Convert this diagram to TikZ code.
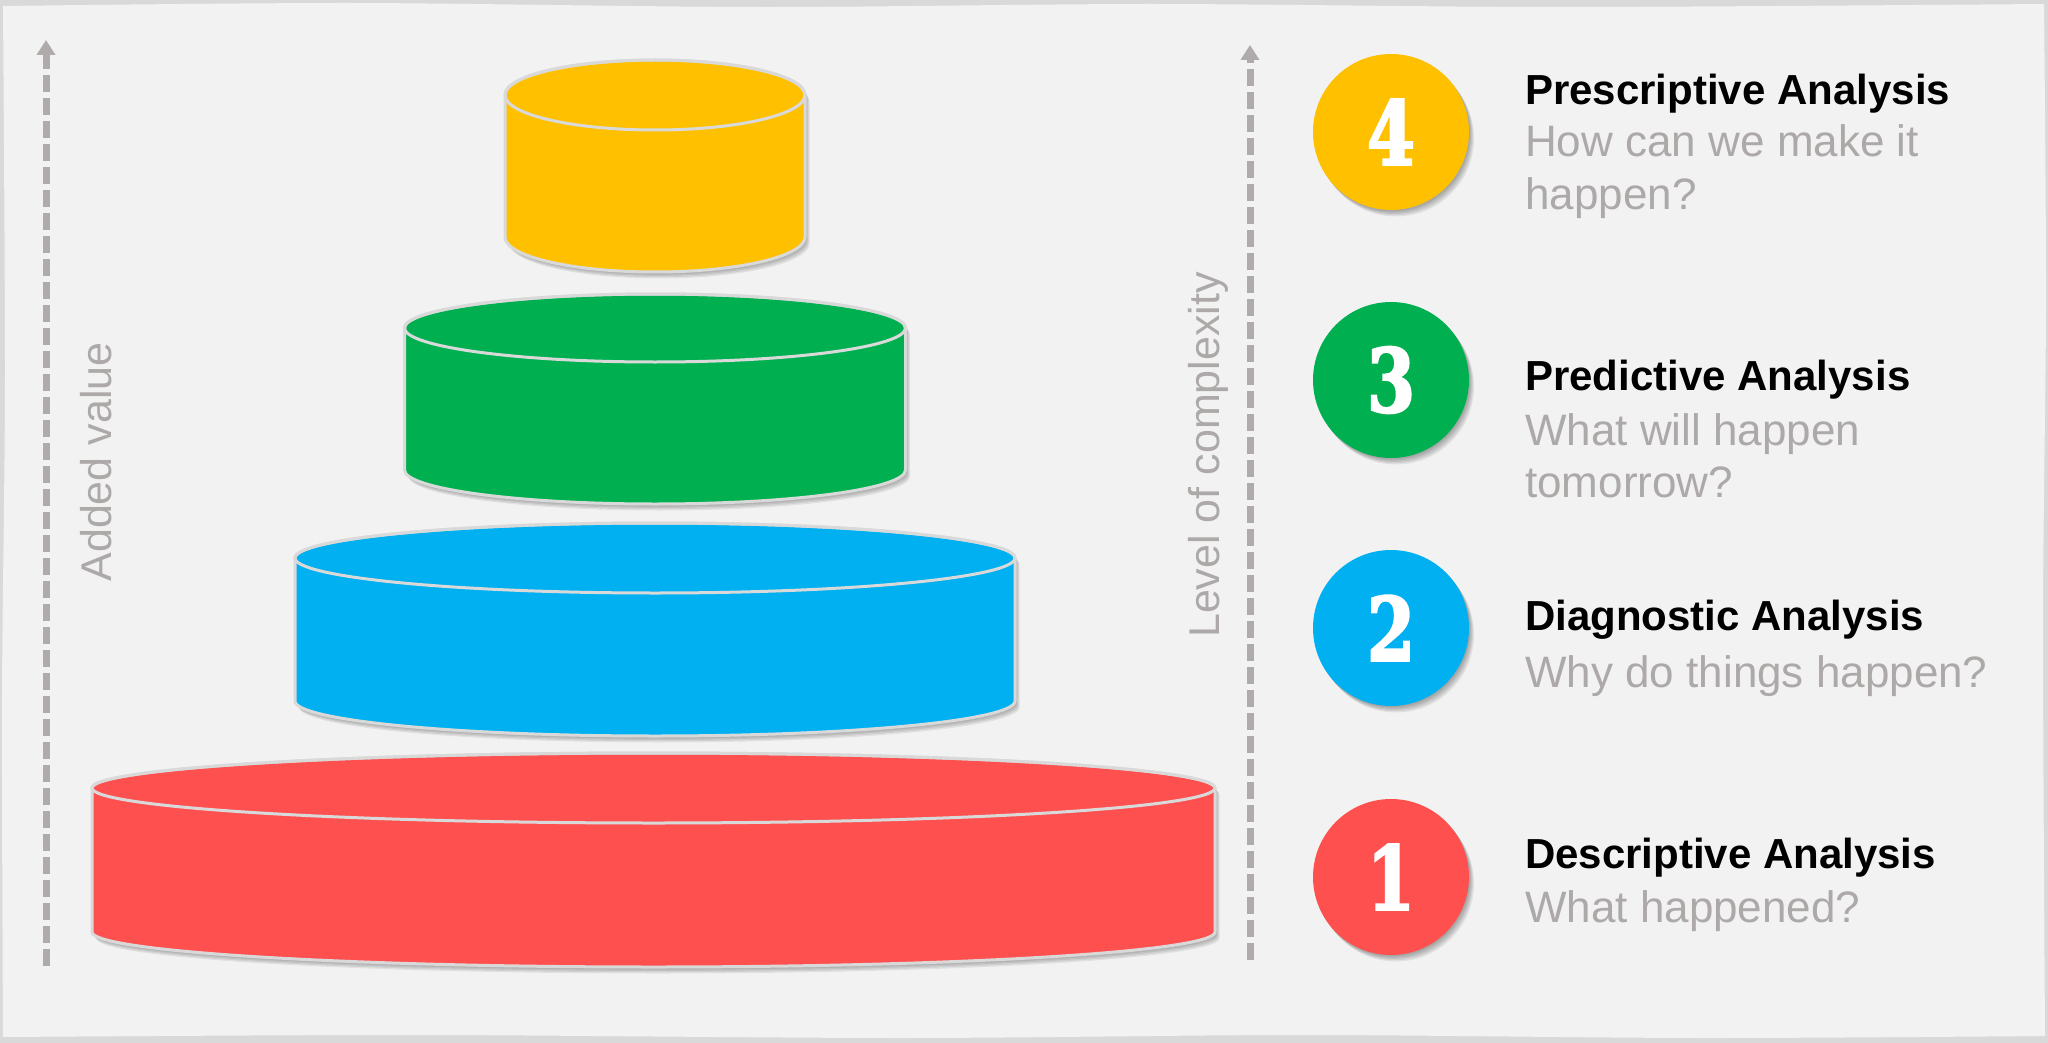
\documentclass[tikz,border=0pt]{standalone}
\usepackage{fontspec}
\setmainfont{Liberation Sans}
\newfontfamily\numfont{DejaVu Serif}[UprightFont={* Bold}, FakeStretch=0.78, FakeBold=2.5]
\usetikzlibrary{arrows.meta}
\definecolor{outerc}{HTML}{D9D9D9}
\definecolor{bgc}{HTML}{F2F2F2}
\definecolor{edgec}{HTML}{D9D9D9}
\definecolor{yel}{HTML}{FFC000}
\definecolor{grn}{HTML}{00B050}
\definecolor{blu}{HTML}{00B0F0}
\definecolor{redc}{HTML}{FF5050}
\definecolor{txtgray}{HTML}{ADA9A9}
\definecolor{arrgray}{HTML}{AFABAB}
\tikzset{
  cylside/.style={draw=edgec, line width=3pt, line join=round},
  shadowfill/.style={fill=black, opacity=0.07},
  numcirc/.style={circle, minimum size=156pt, inner sep=0pt, text=white,
     font=\numfont\fontsize{88}{88}\selectfont},
  titletxt/.style={anchor=base west, inner sep=0pt, text=black,
     font=\bfseries\fontsize{42}{50}\selectfont},
  subtxt/.style={anchor=base west, inner sep=0pt, text=txtgray,
     font=\fontsize{44}{53}\selectfont},
  axislabel/.style={rotate=90, inner sep=0pt, text=txtgray,
     font=\fontsize{43}{50}\selectfont},
  axisarrow/.style={draw=arrgray, line width=7pt, dash pattern=on 17pt off 6pt,
     -{Triangle[width=18pt,length=15pt]}}
}
% cx, rx, top, bottom, ry, colour
\newcommand\drawcyl[6]{%
  \foreach \k in {1,...,5}{%
    \fill[shadowfill, shift={(\k*0.9,\k*1.3)}]
      (#1-#2,#3) -- (#1-#2,#4) arc[start angle=180,end angle=0,x radius=#2,y radius=#5]
      -- (#1+#2,#3) arc[start angle=0,end angle=-180,x radius=#2,y radius=#5] -- cycle;
  }
  \filldraw[cylside, fill=#6]
    (#1-#2,#3) -- (#1-#2,#4) arc[start angle=180,end angle=0,x radius=#2,y radius=#5]
    -- (#1+#2,#3) arc[start angle=0,end angle=-180,x radius=#2,y radius=#5] -- cycle;
  \draw[cylside] (#1,#3) ellipse[x radius=#2, y radius=#5];
}
\newcommand\circshadow[2]{%
  \foreach \k in {1,...,5}{%
    \fill[shadowfill] (#1+\k*1.0,#2+\k*1.3) circle[radius=78];
  }
}
\begin{document}
\begin{tikzpicture}[x=1pt,y=-1pt]
\useasboundingbox (0,0) rectangle (2048,1043);
\fill[outerc] (0,0) rectangle (2048,1043);
\fill[bgc] plot[smooth] coordinates {(3,6) (350,3) (760,7) (1150,4) (1560,7) (2044,4)}
  -- plot[smooth] coordinates {(2044,4) (2046,300) (2043,620) (2045,1036)}
  -- plot[smooth] coordinates {(2045,1036) (1700,1038) (1300,1035) (900,1038) (420,1035) (3,1037)}
  -- plot[smooth] coordinates {(3,1037) (2,700) (5,380) (3,6)} -- cycle;

% axes
\coordinate (la0) at (46,966);
\coordinate (la1) at (46,40);
\coordinate (ra0) at (1250,960);
\coordinate (ra1) at (1250,45);
\draw[axisarrow] (la0) -- (la1);
\draw[axisarrow] (ra0) -- (ra1);
\node[axislabel] (addval) at (96,462) {Added value};
\node[axislabel] (complex) at (1208,455) {Level of complexity};

% cylinders
\drawcyl{653.5}{561.5}{788}{932}{35}{redc}
\drawcyl{655}{360}{558}{701}{35}{blu}
\drawcyl{655}{250.5}{328}{470}{34}{grn}
\drawcyl{655}{150}{95}{237}{35}{yel}

% numbered circles
\circshadow{1391}{132}
\circshadow{1391}{380}
\circshadow{1391}{628}
\circshadow{1391}{877}
\node[numcirc, fill=yel] (c4) at (1391,132) {4};
\node[numcirc, fill=grn] (c3) at (1391,380) {3};
\node[numcirc, fill=blu] (c2) at (1391,628) {2};
\node[numcirc, fill=redc] (c1) at (1391,877) {1};

% texts
\node[titletxt] (t4) at (1525,105) {Prescriptive Analysis};
\node[subtxt] (s4a) at (1525,157) {How can we make it};
\node[subtxt] (s4b) at (1525,210) {happen?};
\node[titletxt] (t3) at (1525,390) {Predictive Analysis};
\node[subtxt] (s3a) at (1525,445) {What will happen};
\node[subtxt] (s3b) at (1525,497) {tomorrow?};
\node[titletxt] (t2) at (1525,630) {Diagnostic Analysis};
\node[subtxt] (s2a) at (1525,687) {Why do things happen?};
\node[titletxt] (t1) at (1525,868) {Descriptive Analysis};
\node[subtxt] (s1a) at (1525,922) {What happened?};
\end{tikzpicture}
\end{document}
